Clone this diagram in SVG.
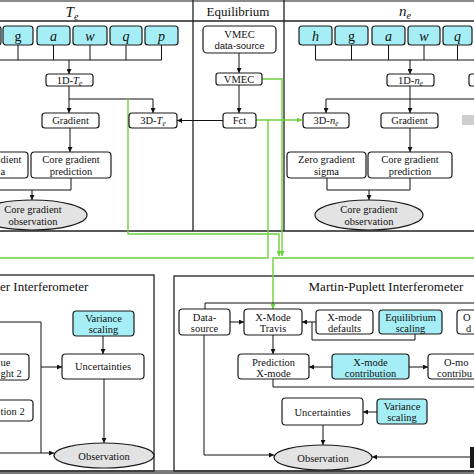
<svg xmlns="http://www.w3.org/2000/svg" width="474" height="474" viewBox="0 0 474 474">
<style>
.box{fill:#fff;stroke:#1a1a1a;stroke-width:1.2}
.cy{fill:#a6eef5;stroke:#1a1a1a;stroke-width:1.2}
.ell{fill:#e3e3e3;stroke:#1a1a1a;stroke-width:1.2}
.frame{fill:none;stroke:#222;stroke-width:1.3}
.ln{fill:none;stroke:#111;stroke-width:1}
.gl{fill:none;stroke:#6fd13f;stroke-width:1.4}
text{font-family:"Liberation Serif","Times New Roman",serif;font-size:10.5px;fill:#111;text-anchor:middle}
.ttl{font-size:13px}
.let{font-size:14px;font-style:italic}
.up{font-style:normal}
.it{font-style:italic}
.sans{font-family:"Liberation Sans",Arial,sans-serif;font-size:9.5px}
.st{text-anchor:start}
.en{text-anchor:end}
</style>
<defs>
<marker id="ah" viewBox="0 0 10 10" refX="10" refY="5" markerWidth="6" markerHeight="5" markerUnits="userSpaceOnUse" orient="auto"><path d="M0,0L10,5L0,10z" fill="#111"/></marker>
<marker id="ag" viewBox="0 0 10 10" refX="10" refY="5" markerWidth="6" markerHeight="5" markerUnits="userSpaceOnUse" orient="auto"><path d="M0,0L10,5L0,10z" fill="#6fd13f"/></marker>
</defs>
<rect width="474" height="474" fill="#fff"/>
<g id="frames">
<rect x="0" y="0" width="474" height="2" fill="#8a8a8a"/>
<rect x="0" y="470" width="474" height="4" fill="#7a7a7a"/>
<line class="frame" x1="0" y1="21" x2="474" y2="21" style="stroke-width:1.6"/>
<line class="frame" x1="193" y1="0" x2="193" y2="231"/>
<line class="frame" x1="284" y1="0" x2="284" y2="231"/>
<line class="frame" x1="0" y1="231" x2="474" y2="231"/>
<rect class="frame" x="-10" y="275" width="164" height="196"/>
<rect class="frame" x="174" y="276" width="310" height="195"/>
<text class="ttl it" x="72" y="17" style="font-size:15px">T<tspan font-size="10" dy="3">e</tspan></text>
<text class="ttl" x="238" y="15.5">Equilibrium</text>
<text class="ttl it" x="405" y="16" style="font-size:15px">n<tspan font-size="10" dy="3">e</tspan></text>
<text class="ttl st" x="0" y="291">er Interferometer</text>
<text class="ttl" x="386" y="291">Martin-Puplett Interferometer</text>
</g>
<g id="connectors">
<path class="ln" d="M18,45V60M53.5,45V60M90,45V60M126,45V60M161.5,45V60M0,60H161.5"/>
<path class="ln" d="M69,60V74" marker-end="url(#ah)"/>
<path class="ln" d="M69,86V113" marker-end="url(#ah)"/>
<path class="ln" d="M69,99H153V113" marker-end="url(#ah)"/>
<path class="ln" d="M223,120.5H177" marker-end="url(#ah)"/>
<path class="ln" d="M70,128V152" marker-end="url(#ah)"/>
<path class="ln" d="M71,178V190H0"/>
<path class="ln" d="M32,190V200" marker-end="url(#ah)"/>
<path class="ln" d="M239,53V73" marker-end="url(#ah)"/>
<path class="ln" d="M239,85V113" marker-end="url(#ah)"/>
<path class="ln" d="M315.5,45V60M351.5,45V60M388.5,45V60M424,45V60M457.5,45V60M315.5,60H474"/>
<path class="ln" d="M410,60V74" marker-end="url(#ah)"/>
<path class="ln" d="M410,86V113" marker-end="url(#ah)"/>
<path class="ln" d="M474,99H326V113" marker-end="url(#ah)"/>
<path class="ln" d="M410,128V152" marker-end="url(#ah)"/>
<path class="ln" d="M327,178V190H410V178"/>
<path class="ln" d="M369,190V200" marker-end="url(#ah)"/>
<path class="gl" d="M262,79H282V256" marker-end="url(#ag)"/>
<path class="gl" d="M128,99V234H279V256" marker-end="url(#ag)"/>
<path class="gl" d="M256,120H302" marker-end="url(#ag)"/>
<path class="gl" d="M268,120V258H0"/>
<path class="gl" d="M474,258H273V309" marker-end="url(#ag)"/>
<path class="ln" d="M0,322H41V453"/>
<path class="ln" d="M41,367H62" marker-end="url(#ah)"/>
<path class="ln" d="M0,453H54" marker-end="url(#ah)"/>
<path class="ln" d="M103,336V354" marker-end="url(#ah)"/>
<path class="ln" d="M104,379V443" marker-end="url(#ah)"/>
<path class="ln" d="M205,309V303H474"/>
<path class="ln" d="M230,322H244" marker-end="url(#ah)"/>
<path class="ln" d="M316,322H302" marker-end="url(#ah)"/>
<path class="ln" d="M415,334V340H312V322"/>
<path class="ln" d="M273,335V354" marker-end="url(#ah)"/>
<path class="ln" d="M332,367H309" marker-end="url(#ah)"/>
<path class="ln" d="M409,367H428" marker-end="url(#ah)"/>
<path class="ln" d="M273,379V387H474"/>
<path class="ln" d="M377,412H363" marker-end="url(#ah)"/>
<path class="ln" d="M323,425V445" marker-end="url(#ah)"/>
<path class="ln" d="M204,335V455H274" marker-end="url(#ah)"/>
<path class="ln" d="M470,457H372" marker-end="url(#ah)"/>
</g>
<g id="te-h"><rect class="cy" x="-30" y="26" width="31" height="19" rx="3"/></g>
<g id="te-g"><rect class="cy" x="3" y="26" width="30" height="19" rx="3"/><text class="let up" x="18" y="40.5">g</text></g>
<g id="te-a"><rect class="cy" x="37" y="26" width="33" height="19" rx="3"/><text class="let" x="53.5" y="40.5">a</text></g>
<g id="te-w"><rect class="cy" x="73" y="26" width="34" height="19" rx="3"/><text class="let" x="90" y="40.5">w</text></g>
<g id="te-q"><rect class="cy" x="110" y="26" width="32" height="19" rx="3"/><text class="let" x="126" y="40.5">q</text></g>
<g id="te-p"><rect class="cy" x="145" y="26" width="33" height="19" rx="3"/><text class="let" x="161.5" y="40.5">p</text></g>
<g id="te-1d"><rect class="box" x="46" y="74" width="47" height="12" rx="2.5"/><text x="69.5" y="83.5">1D-<tspan class="it">T</tspan><tspan class="it" font-size="7.5" dy="2">e</tspan></text></g>
<g id="te-grad"><rect class="box" x="42" y="113" width="57" height="15" rx="3"/><text x="70.5" y="124">Gradient</text></g>
<g id="te-3d"><rect class="box" x="129" y="113" width="48" height="15" rx="3"/><text x="153" y="124">3D-<tspan class="it">T</tspan><tspan class="it" font-size="7.5" dy="2">e</tspan></text></g>
<g id="te-sigma"><rect class="box" x="-49" y="152" width="77" height="26" rx="3.5"/><text class="st" x="0.5" y="163">dient</text><text class="st" x="0.5" y="175">a</text></g>
<g id="te-pred"><rect class="box" x="31" y="152" width="80" height="26" rx="3.5"/><text x="71" y="163">Core gradient</text><text x="71" y="175">prediction</text></g>
<g id="te-obs"><ellipse class="ell" cx="32" cy="215" rx="55" ry="15"/><text x="33" y="213">Core gradient</text><text x="33" y="225">observation</text></g>
<g id="eq-src"><rect class="box" x="203" y="26" width="73" height="27" rx="4"/><text x="239.5" y="38">VMEC</text><text class="sans" x="239.5" y="49">data-source</text></g>
<g id="eq-vmec"><rect class="box" x="216" y="73" width="46" height="12" rx="2.5"/><text x="239" y="82.5">VMEC</text></g>
<g id="eq-fct"><rect class="box" x="223" y="113" width="33" height="15" rx="3"/><text x="239.5" y="124">Fct</text></g>
<g id="ne-h"><rect class="cy" x="299" y="26" width="33" height="19" rx="3"/><text class="let" x="315.5" y="40.5">h</text></g>
<g id="ne-g"><rect class="cy" x="335" y="26" width="33" height="19" rx="3"/><text class="let up" x="351.5" y="40.5">g</text></g>
<g id="ne-a"><rect class="cy" x="372" y="26" width="33" height="19" rx="3"/><text class="let" x="388.5" y="40.5">a</text></g>
<g id="ne-w"><rect class="cy" x="408" y="26" width="32" height="19" rx="3"/><text class="let" x="424" y="40.5">w</text></g>
<g id="ne-q"><rect class="cy" x="443" y="26" width="29" height="19" rx="3"/><text class="let" x="457.5" y="40.5">q</text></g>
<g id="ne-1d"><rect class="box" x="387" y="74" width="47" height="12" rx="2.5"/><text x="410.5" y="83.5">1D-<tspan class="it">n</tspan><tspan class="it" font-size="7.5" dy="2">e</tspan></text></g>
<g id="ne-x"><rect class="box" x="469" y="74" width="20" height="12" rx="2.5"/></g>
<g id="ne-gray"><rect x="462" y="115" width="14" height="10" fill="#cfcfcf"/></g>
<g id="ne-3d"><rect class="box" x="303" y="113" width="46" height="15" rx="3"/><text x="326" y="124">3D-<tspan class="it">n</tspan><tspan class="it" font-size="7.5" dy="2">e</tspan></text></g>
<g id="ne-grad"><rect class="box" x="381" y="113" width="57" height="15" rx="3"/><text x="409.5" y="124">Gradient</text></g>
<g id="ne-sigma"><rect class="box" x="287" y="152" width="79" height="26" rx="3.5"/><text x="326.5" y="163">Zero gradient</text><text x="326.5" y="175">sigma</text></g>
<g id="ne-pred"><rect class="box" x="368" y="152" width="84" height="26" rx="3.5"/><text x="410" y="163">Core gradient</text><text x="410" y="175">prediction</text></g>
<g id="ne-obs"><ellipse class="ell" cx="369" cy="215" rx="54" ry="15"/><text x="369" y="213">Core gradient</text><text x="369" y="225">observation</text></g>
<g id="bl-var"><rect class="cy" x="73" y="311" width="61" height="25" rx="3.5"/><text x="103.5" y="322">Variance</text><text x="103.5" y="333">scaling</text></g>
<g id="bl-unc"><rect class="box" x="62" y="354" width="82" height="25" rx="3.5"/><text x="103" y="370">Uncertainties</text></g>
<g id="bl-w2"><rect class="box" x="-40" y="354" width="69" height="26" rx="3.5"/><text class="st" x="0.5" y="366">ue</text><text class="st" x="0.5" y="377">ght 2</text></g>
<g id="bl-p2"><rect class="box" x="-40" y="400" width="73" height="21" rx="3.5"/><text class="st" x="0.5" y="414.5">tion 2</text></g>
<g id="bl-obs"><ellipse class="ell" cx="104" cy="455.5" rx="50" ry="12.5"/><text x="104" y="459.5">Observation</text></g>
<g id="br-src"><rect class="box" x="179" y="309" width="51" height="26" rx="3.5"/><text x="204.5" y="320.5">Data-</text><text x="204.5" y="332">source</text></g>
<g id="br-travis"><rect class="box" x="244" y="309" width="58" height="26" rx="3.5"/><text x="273" y="320.5">X-Mode</text><text x="273" y="332">Travis</text></g>
<g id="br-xdef"><rect class="box" x="316" y="310" width="57" height="24" rx="3.5"/><text x="344.5" y="321">X-mode</text><text x="344.5" y="332">defaults</text></g>
<g id="br-eq"><rect class="cy" x="379" y="310" width="63" height="24" rx="3.5"/><text x="410.5" y="321">Equilibrium</text><text x="410.5" y="332">scaling</text></g>
<g id="br-odef"><rect class="box" x="457" y="310" width="60" height="24" rx="3.5"/><text class="st" x="463" y="321">O</text><text class="st" x="466" y="332">d</text></g>
<g id="br-pred"><rect class="box" x="238" y="354" width="71" height="25" rx="3.5"/><text x="273.5" y="366">Prediction</text><text x="273.5" y="377">X-mode</text></g>
<g id="br-xcon"><rect class="cy" x="332" y="354" width="77" height="25" rx="3.5"/><text x="370.5" y="366">X-mode</text><text x="370.5" y="377">contribution</text></g>
<g id="br-ocon"><rect class="box" x="428" y="354" width="80" height="25" rx="3.5"/><text class="st" x="444" y="366">O-mo</text><text class="st" x="437" y="377">contribu</text></g>
<g id="br-unc"><rect class="box" x="282" y="398" width="81" height="27" rx="3.5"/><text x="322.5" y="415.5">Uncertainties</text></g>
<g id="br-var"><rect class="cy" x="377" y="399" width="50" height="25" rx="3.5"/><text x="402" y="410">Variance</text><text x="402" y="421">scaling</text></g>
<g id="br-obs"><ellipse class="ell" cx="323" cy="457.5" rx="49" ry="12.5"/><text x="323" y="461.5">Observation</text></g>
<g id="br-x"><rect x="470" y="447" width="8" height="21" fill="#1a1a1a"/></g>
</svg>
